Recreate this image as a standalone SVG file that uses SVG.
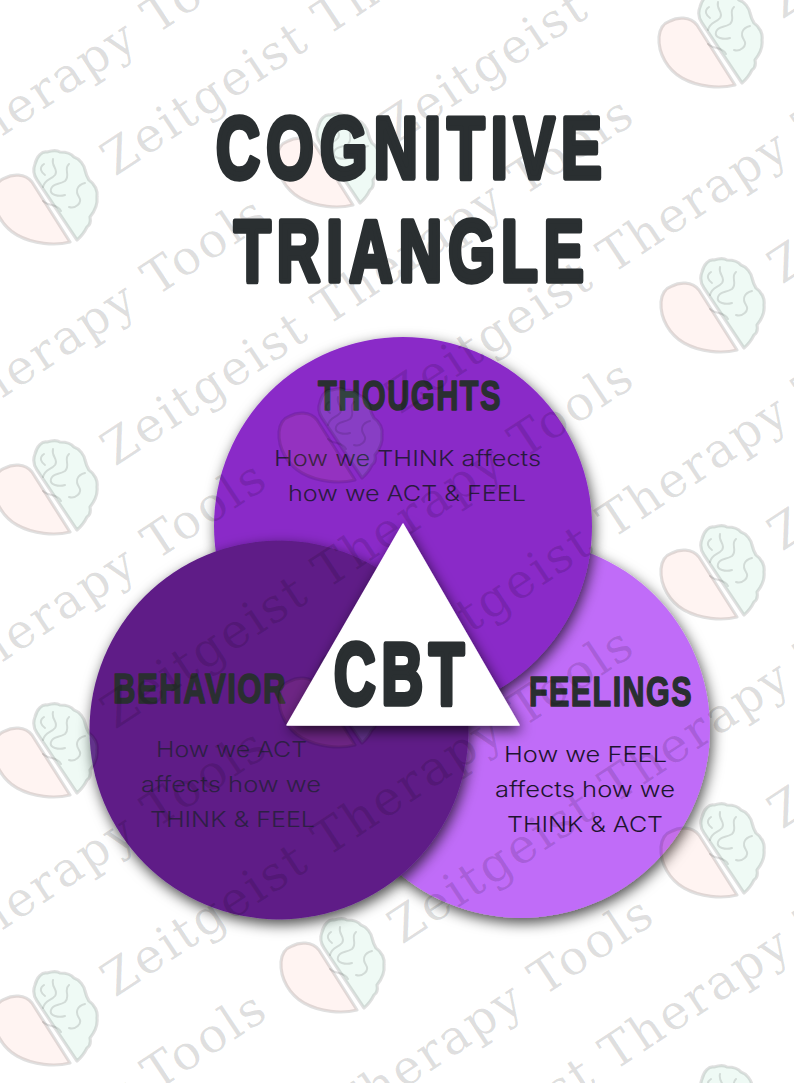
<svg xmlns="http://www.w3.org/2000/svg" width="794" height="1083" viewBox="0 0 794 1083">
<style>
.head{font-family:"Liberation Sans",Arial,sans-serif;font-weight:700;fill:#2a2f31;stroke:#2a2f31;stroke-linejoin:round}
.big{font-size:88px;stroke-width:5.500px;letter-spacing:9px}
.sub{font-size:42px;stroke-width:1.500px;letter-spacing:2px}
.body{font-family:Inter,"Liberation Sans",sans-serif;font-weight:300;font-size:22px;text-anchor:start}
.wm{font-family:"DejaVu Serif","Liberation Serif",serif;font-size:48px;fill:#000;fill-opacity:.13}
.ho{fill:none;stroke:#000;stroke-opacity:.12;stroke-width:3.2;stroke-linejoin:round;stroke-linecap:round}
.hl{fill:#ff8a70;fill-opacity:.09}
.hr{fill:#7fd4b0;fill-opacity:.12}
</style>
<defs>
<filter id="sh" x="-15%" y="-15%" width="130%" height="130%"><feDropShadow dx="2" dy="5" stdDeviation="7" flood-color="#000" flood-opacity=".7"/></filter>
<g id="hrt">
<path class="hl" d="M25 45C10 49-12 47-28 38C-42 30-52 14-51-3C-50-13-46-17-40-19C-33-23-20-24-13-15Z"/>
<path class="hr" d="M32 43L-8-17C-12-23-12-28-10-33C-8-41-3-46 2-45C8-47 12-47 15-45C20-45 26-44 29-40C35-38 39-32 40-27C41-23 42-20 44-17C50-13 53-6 52 0C53 8 49 15 45 20C46 25 45 28 42 30Q38 38 32 43Z"/>
<path class="ho" d="M25 45C10 49-12 47-28 38C-42 30-52 14-51-3C-50-13-46-17-40-19C-33-23-20-24-13-15Z"/>
<path class="ho" d="M32 43L-8-17C-12-23-12-28-10-33C-8-41-3-46 2-45C8-47 12-47 15-45C20-45 26-44 29-40C35-38 39-32 40-27C41-23 42-20 44-17C50-13 53-6 52 0C53 8 49 15 45 20C46 25 45 28 42 30Q38 38 32 43Z"/>
<path class="ho" style="stroke-width:2" d="M-1-33C-7-29-3-24 0-22M8-38C6-30 14-28 10-22C6-17 0-18-2-10M24-33C18-28 26-22 20-16C14-12 8-14 6-8C4-2 14 0 20-2M40-14C32-12 30-6 34 0C38 6 30 12 24 10M-2 4C4 10 12 6 16 14"/>
</g>
<text id="wt" class="wm" textLength="625" lengthAdjust="spacing">Zeitgeist Therapy Tools</text>
</defs>
<rect width="794" height="1083" fill="#fff"/>
<g id="feelings" filter="url(#sh)"><circle cx="521" cy="729" r="189" fill="#c06cf8"/></g>
<g id="thoughts" filter="url(#sh)"><circle cx="403" cy="526" r="189" fill="#8a2bc8"/></g>
<g id="behavior" filter="url(#sh)"><circle cx="279" cy="730" r="189.500" fill="#5e1f87"/></g>
<g id="labels">
<text class="head sub" x="318" y="410" textLength="184" lengthAdjust="spacingAndGlyphs">THOUGHTS</text>
<text class="body" x="274" y="466" textLength="267" lengthAdjust="spacingAndGlyphs" fill="#2a1a40">How we THINK affects</text>
<text class="body" x="288" y="501" textLength="238" lengthAdjust="spacingAndGlyphs" fill="#2a1a40">how we ACT &amp; FEEL</text>
<text class="head sub" x="113" y="703" textLength="174" lengthAdjust="spacingAndGlyphs">BEHAVIOR</text>
<text class="body" x="156" y="757" textLength="151" lengthAdjust="spacingAndGlyphs" fill="#2e1f45">How we ACT</text>
<text class="body" x="141" y="792" textLength="180" lengthAdjust="spacingAndGlyphs" fill="#2e1f45">affects how we</text>
<text class="body" x="150" y="827" textLength="165" lengthAdjust="spacingAndGlyphs" fill="#2e1f45">THINK &amp; FEEL</text>
<text class="head sub" x="529" y="706" textLength="164" lengthAdjust="spacingAndGlyphs">FEELINGS</text>
<text class="body" x="504" y="762" textLength="163" lengthAdjust="spacingAndGlyphs" fill="#1e1430">How we FEEL</text>
<text class="body" x="495" y="797" textLength="180" lengthAdjust="spacingAndGlyphs" fill="#1e1430">affects how we</text>
<text class="body" x="507" y="832" textLength="156" lengthAdjust="spacingAndGlyphs" fill="#1e1430">THINK &amp; ACT</text>
</g>
<g id="watermark">
<use href="#hrt" x="45" y="197"/><use href="#hrt" x="45" y="487"/><use href="#hrt" x="45" y="750"/><use href="#hrt" x="45" y="1018"/>
<use href="#hrt" x="328" y="160"/><use href="#hrt" x="330" y="435"/><use href="#hrt" x="330" y="700"/><use href="#hrt" x="332" y="965"/>
<use href="#hrt" x="710" y="40"/><use href="#hrt" x="712" y="305"/><use href="#hrt" x="712" y="572"/><use href="#hrt" x="712" y="850"/><use href="#hrt" x="712" y="1112"/>
<use href="#wt" transform="translate(115 177) rotate(-33.500)"/>
<use href="#wt" transform="translate(115 467) rotate(-33.500)"/>
<use href="#wt" transform="translate(115 730) rotate(-33.500)"/>
<use href="#wt" transform="translate(115 998) rotate(-33.500)"/>
<use href="#wt" transform="translate(135 1267) rotate(-33.500)"/>
<use href="#wt" transform="translate(-252 305) rotate(-33.500)"/>
<use href="#wt" transform="translate(-252 567) rotate(-33.500)"/>
<use href="#wt" transform="translate(-252 831) rotate(-33.500)"/>
<use href="#wt" transform="translate(-252 1099) rotate(-33.500)"/>
<use href="#wt" transform="translate(-252 1362) rotate(-33.500)"/>
<use href="#wt" transform="translate(395 145) rotate(-33.500)"/>
<use href="#wt" transform="translate(400 415) rotate(-33.500)"/>
<use href="#wt" transform="translate(400 680) rotate(-33.500)"/>
<use href="#wt" transform="translate(402 945) rotate(-33.500)"/>
<use href="#wt" transform="translate(402 1212) rotate(-33.500)"/>
<use href="#wt" transform="translate(782 20) rotate(-33.500)"/>
<use href="#wt" transform="translate(782 285) rotate(-33.500)"/>
<use href="#wt" transform="translate(782 552) rotate(-33.500)"/>
<use href="#wt" transform="translate(782 830) rotate(-33.500)"/>
</g>
<g id="triangle">
<path d="M403 524L519 725H287Z" fill="#fff" stroke="#fff" stroke-width="1.500" stroke-linejoin="round" filter="url(#sh)"/>
<text class="head big" x="334" y="704" textLength="136" lengthAdjust="spacingAndGlyphs">CBT</text>
</g>
<g id="title">
<text class="head big" x="216" y="178" textLength="392" lengthAdjust="spacingAndGlyphs">COGNITIVE</text>
<text class="head big" x="234" y="281" textLength="356" lengthAdjust="spacingAndGlyphs">TRIANGLE</text>
</g>
</svg>
